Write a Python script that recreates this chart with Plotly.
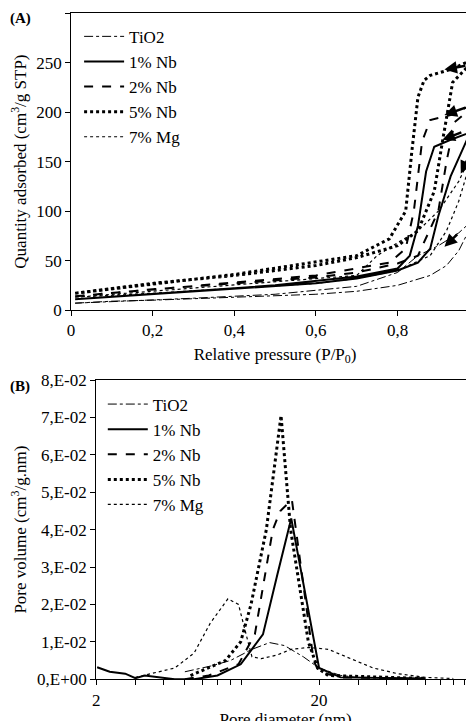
import plotly.graph_objects as go

# Panel A: isotherms (adsorption then desorption)
tio2_p = [0.01,0.1,0.2,0.4,0.6,0.7,0.8,0.88,0.92,0.95,0.99, 0.95,0.9,0.85,0.8,0.7,0.5,0.3,0.1,0.01]
tio2_q = [7,9,10,13,16,19,25,35,45,60,93, 78,65,55,38,24,16,12,9,7]
nb1_p = [0.01,0.2,0.4,0.6,0.7,0.8,0.85,0.88,0.9,0.93,0.97,0.995, 0.93,0.89,0.87,0.85,0.83,0.8,0.7,0.5,0.01]
nb1_q = [11,16,21,27,32,40,48,62,95,135,172,182, 172,165,140,85,55,42,34,25,11]
nb2_p = [0.01,0.2,0.4,0.6,0.7,0.8,0.85,0.9,0.92,0.94,0.97,0.995, 0.93,0.88,0.86,0.84,0.82,0.78,0.6,0.01]
nb2_q = [14,21,27,33,38,47,55,100,150,190,200,210, 197,192,170,100,62,48,35,14]
nb5_p = [0.01,0.2,0.4,0.6,0.7,0.8,0.85,0.89,0.91,0.935,0.97,0.995, 0.93,0.88,0.865,0.85,0.835,0.82,0.78,0.7,0.4,0.01]
nb5_q = [17,27,35,45,53,65,80,120,170,230,245,255, 243,237,232,215,160,100,72,55,36,17]
mg7_p = [0.01,0.2,0.4,0.6,0.7,0.8,0.88,0.92,0.95,0.99, 0.95,0.9,0.85,0.8,0.75,0.7,0.01]
mg7_q = [13,17,22,27,32,40,55,80,110,165, 130,100,80,68,55,35,13]

# Panel B: pore size distributions (x1e-2)
tio2_d = [5,6.5,8,10,12,14,17,20,25,30,60]
tio2_v = [0.2,0.35,0.5,0.8,0.98,0.9,0.6,0.3,0.1,0.05,0.02]
nb1_d = [2.02,2.3,2.7,3.0,3.3,3.8,4.5,5.5,7,8.9,11.2,13,15,20,25,60]
nb1_v = [0.32,0.2,0.15,0.03,0.1,0.05,0.0,0.0,0.1,0.4,1.2,2.8,4.3,0.3,0.05,0.02]
nb2_d = [5,6.4,8.7,10.3,12.4,13.4,15.1,18.9,20,25,60]
nb2_v = [0.0,0.1,0.4,1.2,4.0,4.5,4.8,0.5,0.2,0.05,0.02]
nb5_d = [5.3,7.6,8.9,9.9,11.6,13.5,14.9,17.9,19.7,22,60]
nb5_v = [0.1,0.5,1.0,2.0,4.0,7.05,4.0,1.0,0.3,0.1,0.02]
mg7_d = [3,4.5,5.5,6.5,7.8,8.7,9.6,10,11,13,15,18,22,28,35,45,60,80]
mg7_v = [0.05,0.3,0.7,1.5,2.15,2.0,1.0,0.6,0.55,0.65,0.8,0.85,0.8,0.55,0.3,0.15,0.05,0.02]

names = ["TiO2", "1% Nb", "2% Nb", "5% Nb", "7% Mg"]
styles = [dict(dash="dashdot", width=1), dict(dash="solid", width=2), dict(dash="dash", width=2),
          dict(dash="dot", width=3), dict(dash="dot", width=1.2)]
A = [(tio2_p,tio2_q),(nb1_p,nb1_q),(nb2_p,nb2_q),(nb5_p,nb5_q),(mg7_p,mg7_q)]
B = [(tio2_d,tio2_v),(nb1_d,nb1_v),(nb2_d,nb2_v),(nb5_d,nb5_v),(mg7_d,mg7_v)]

fig = go.Figure()
for n, s, (x, y) in zip(names, styles, A):
    fig.add_trace(go.Scatter(x=x, y=y, name=n, mode="lines", line=dict(color="black", **s),
                             xaxis="x", yaxis="y", legend="legend"))
for n, s, (x, y) in zip(names, styles, B):
    fig.add_trace(go.Scatter(x=x, y=[v*1e-2 for v in y], name=n, mode="lines",
                             line=dict(color="black", **s), xaxis="x2", yaxis="y2", legend="legend2"))

fam = "Liberation Serif, Times New Roman, serif"
font = dict(family=fam, color="black", size=17)
ax = dict(showline=True, linecolor="black", mirror=True, showgrid=False, zeroline=False,
          ticks="outside", tickcolor="black", tickfont=font, automargin=False)
fig.update_layout(
    width=474, height=721, margin=dict(l=0, r=0, t=0, b=0),
    paper_bgcolor="white", plot_bgcolor="white", font=font,
    xaxis=dict(ax, domain=[0.133, 0.994], range=[0, 1], anchor="y",
               tickvals=[0,0.2,0.4,0.6,0.8,1], ticktext=["0","0,2","0,4","0,6","0,8","1"],
               title=dict(text="Relative pressure (P/P<sub>0</sub>)", font=font, standoff=8)),
    yaxis=dict(ax, domain=[0.581, 0.993], range=[0, 300], anchor="x", dtick=50,
               title=dict(text="Quantity adsorbed (cm<sup>3</sup>/g STP)", font=font, standoff=6)),
    xaxis2=dict(ax, type="log", domain=[0.186, 0.985], range=[0.301, 2.0], anchor="y2",
                tickvals=[2,3,4,5,6,7,8,9,20,30,40,50,60,70,80,90],
                ticktext=["2","","","","","","","","20","","","","","","",""],
                title=dict(text="Pore diameter (nm)", font=font, standoff=8)),
    yaxis2=dict(ax, domain=[0.069, 0.484], range=[0, 0.08], anchor="x2",
                tickvals=[i*0.01 for i in range(9)],
                ticktext=["0,E+00"]+[f"{i},E-02" for i in range(1,9)],
                title=dict(text="Pore volume (cm<sup>3</sup>/g.nm)", font=font, standoff=6)),
    legend=dict(x=0.15, y=0.985, xanchor="left", yanchor="top", bgcolor="rgba(0,0,0,0)",
                font=font, tracegroupgap=0, itemwidth=40),
    legend2=dict(x=0.2, y=0.475, xanchor="left", yanchor="top", bgcolor="rgba(0,0,0,0)",
                 font=font, tracegroupgap=0, itemwidth=40),
)
fig.add_annotation(text="<b>(A)</b>", x=0, y=1.0, xref="paper", yref="paper", xanchor="left",
                   yanchor="top", showarrow=False, font=dict(family=fam, size=15))
fig.add_annotation(text="<b>(B)</b>", x=0, y=0.49, xref="paper", yref="paper", xanchor="left",
                   yanchor="top", showarrow=False, font=dict(family=fam, size=15))
arrows = [(0.97,247,0.915,243),(0.97,205,0.915,197),(0.96,180,0.91,172),(0.975,155,0.955,138),(0.95,78,0.915,64)]
for x0,y0,x1,y1 in arrows:
    fig.add_annotation(x=x1, y=y1, ax=x0, ay=y0, xref="x", yref="y", axref="x", ayref="y",
                       showarrow=True, arrowhead=2, arrowsize=1, arrowwidth=2.5, arrowcolor="black", text="")
fig.write_html("out.html")
